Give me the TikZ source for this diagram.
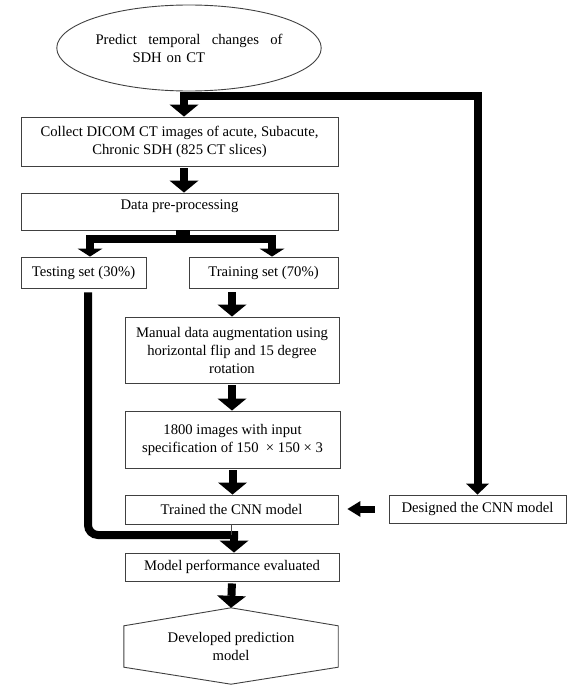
\documentclass[tikz,border=0pt]{standalone}
\usepackage{fontspec}
\setmainfont{Liberation Serif}
\usepackage{tikz}
\usetikzlibrary{arrows.meta,shapes,positioning,calc}
\tikzstyle{box}=[draw=black!75, line width=0.9pt, inner sep=2pt, align=center]
\tikzstyle{fat}=[line width=8pt, -{Triangle[width=29pt,length=12pt,line width=0pt]}]
\tikzstyle{bar}=[line width=8pt]

\begin{document}
\begin{tikzpicture}[x=1pt,y=-1pt,font=\fontsize{14.67pt}{18pt}\selectfont]
		\useasboundingbox(0,0)rectangle(571,685);
		% boxes
		\node[draw=black!75,line width=0.9pt,ellipse,inner sep=0pt,minimum width=262pt,minimum height=86pt,text width=187pt](goal)at(189,48){\makebox[187pt]{Predict\hfill temporal\hfill changes\hfill of}\\\hspace*{37pt}SDH on CT};
		\node[box,minimum width=317pt,minimum height=49pt](collect)at(179.5,141.5){Collect DICOM CT images of acute, Subacute,\\Chronic SDH (825 CT slices)};
		\node[box,minimum width=317pt,text height=16pt,text depth=21pt,inner ysep=0pt](prep)at(179.5,211.5){Data pre-processing};
		\node[box,minimum width=125pt,minimum height=31pt](test)at(83.5,272.5){Testing set (30\%)};
		\node[box,minimum width=149pt,minimum height=31pt](train)at(263.5,272.5){Training set (70\%)};
		\node[box,minimum width=214pt,minimum height=66pt](aug)at(232,350){Manual data augmentation using\\horizontal flip and 15 degree\\rotation};
		\node[box,minimum width=215pt,minimum height=57pt](spec)at(232.5,439.5){1800 images with input\\specification of 150\ \ × 150 × 3};
		\node[box,minimum width=213pt,minimum height=29pt](trained)at(231.5,509.5){Trained the CNN model};
		\node[box,minimum width=177pt,minimum height=28pt](design)at(477.5,509){Designed the CNN model};
		\node[box,minimum width=214pt,minimum height=28pt](eval)at(232,567){Model performance evaluated};
		\node[align=center,minimum width=214pt,minimum height=41pt](model)at(231,646.5){Developed prediction\\model};
		\draw[draw=black!75,line width=0.9pt](model.north west)--([yshift=18pt]model.north)--(model.north east)--(model.south east)--([yshift=-17pt]model.south)--(model.south west)--cycle;
		% joints
		\coordinate(top)at(184,96);
		\coordinate(split)at(183,239);
		\coordinate(merge)at(234,535);
		% arrows
		\draw[bar,{Triangle[width=29pt,length=12pt,line width=0pt]}-{Triangle[width=23pt,length=11pt,line width=0pt]}](collect.north-|top)--(top)-|(design.north);
		\draw[fat,shorten <=2pt](collect.south-|top)--(prep.north-|top);
		\draw[line width=14pt](prep.south-|split)--(split);
		\draw[bar,{Triangle[width=25pt,length=8pt,line width=0pt]}-{Triangle[width=25pt,length=8pt,line width=0pt]}]([xshift=6.5pt]test.north)|-(split)-|([xshift=8.5pt]train.north);
		\draw[fat,shorten <=4pt](train.south-|aug)--(aug.north);
		\draw[fat,shorten <=2pt](aug.south)--(aug.south|-spec.north);
		\draw[fat,shorten <=2pt](spec.south)--(spec.south|-trained.north);
		\draw[line width=7pt,-{Triangle[width=16pt,length=13pt,line width=0pt]},shorten <=14pt,shorten >=9pt](design.west)--(design.west-|trained.east);
		\draw[bar,rounded corners=10pt]([shift={(4.5pt,-4pt)}]test.south)|-([xshift=4pt]merge);
		\draw[fat]([yshift=4pt]merge)--(merge|-eval.north);
		\draw[line width=0.8pt,black!70](trained.south)--(trained.south|-merge);
		\draw[fat,shorten <=2pt](eval.south)--([yshift=18pt]model.north);
\end{tikzpicture}
\end{document}
